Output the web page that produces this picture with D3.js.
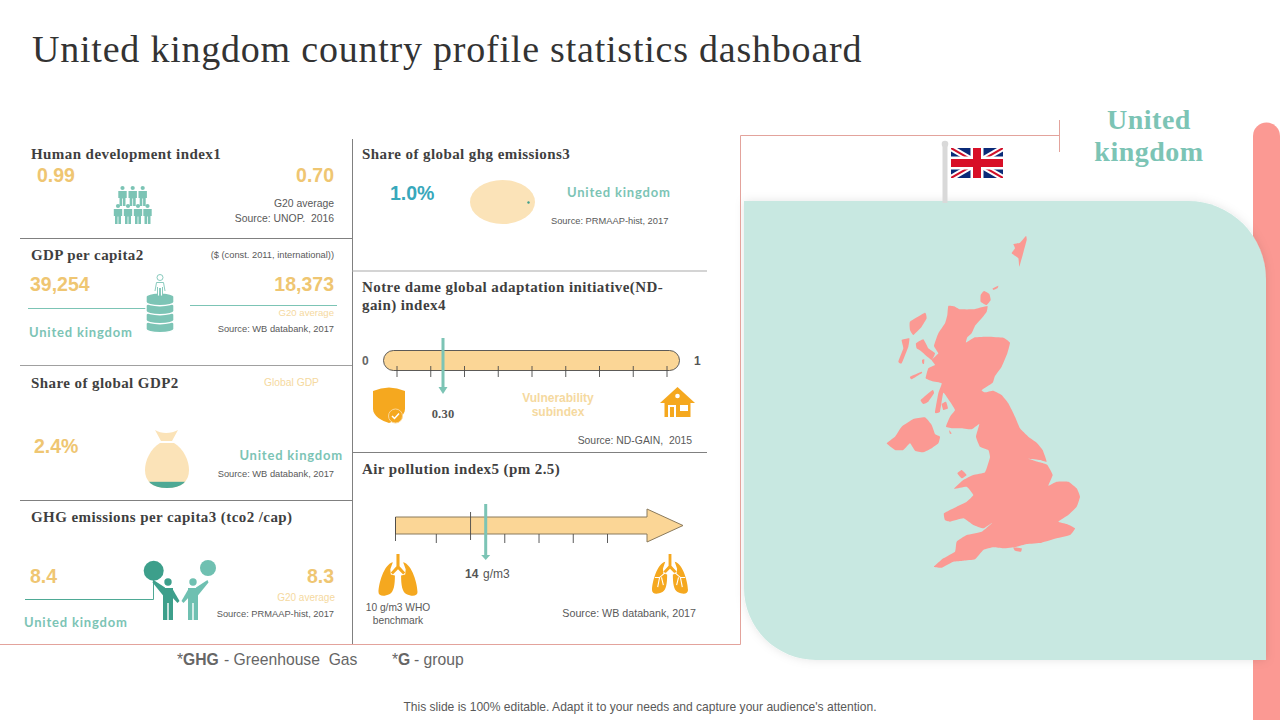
<!DOCTYPE html>
<html><head><meta charset="utf-8">
<script src="https://cdn.jsdelivr.net/npm/d3@7"></script>
<style>html,body{margin:0;padding:0;background:#fff;overflow:hidden}svg{display:block}</style>
</head><body><svg id="c" width="1280" height="720" viewBox="0 0 1280 720"></svg>
<script>
// ---------- data ----------
const titleText = "United kingdom country profile statistics dashboard";
const hdiValues = ["0.99", "0.70"];
const gdpValues = ["39,254", "18,373"];
const shareGdp = "2.4%";
const ghgValues = ["8.4", "8.3"];
const shareGhg = "1.0%";
const gaugeTickCount = [0,1,2,3,4,5,6,7,8];
const gaugeValue = 0.30;
const gaugeDomain = [0, 0.30, 1];
const airTicks = [0,1,2,3,4,5,6];
const airValue = 14;
const airBenchmark = 10;

// outline of the map, in map units
const greatBritain = [[265,258],[285,260],[300,268],[340,268],[382,258],[380,275],[365,295],[345,318],[335,340],[322,352],[318,368],[345,352],[385,350],[430,353],[450,368],[442,400],[425,440],[405,468],[398,488],[365,510],[375,517],[400,512],[425,525],[445,550],[465,590],[480,625],[505,650],[530,668],[548,690],[560,725],[540,720],[505,716],[540,727],[562,735],[578,765],[565,797],[590,785],[625,785],[650,805],[660,830],[650,860],[625,885],[595,905],[620,912],[645,925],[630,945],[590,955],[545,968],[500,972],[470,980],[430,985],[400,982],[370,990],[345,1018],[310,1022],[280,1025],[245,1043],[222,1040],[250,1015],[285,995],[290,965],[320,945],[365,935],[397,908],[370,925],[340,915],[310,895],[270,905],[255,900],[252,880],[290,860],[320,845],[340,825],[320,800],[282,806],[310,780],[340,765],[375,757],[390,712],[385,690],[360,680],[348,650],[358,612],[335,628],[300,625],[280,625],[258,620],[270,590],[285,570],[270,545],[250,518],[240,575],[225,578],[235,520],[245,490],[215,483],[197,475],[205,445],[225,435],[215,420],[235,400],[222,378],[235,340],[255,310],[262,285]];
const northernIreland = [[80,670],[105,650],[125,620],[160,597],[195,592],[215,615],[225,642],[240,650],[235,670],[215,685],[190,697],[165,692],[150,670],[130,690],[105,690]];
const islands = [
 [[150,305],[195,278],[200,295],[185,320],[160,345],[150,330]],
 [[125,360],[148,355],[145,380],[125,430],[115,425],[130,385]],
 [[168,370],[190,358],[205,385],[225,400],[215,420],[185,395],[170,385]],
 [[150,470],[185,455],[185,460],[155,478]],
 [[182,540],[218,510],[222,520],[205,545],[190,552]],
 [[245,552],[258,545],[264,565],[250,570]],
 [[362,225],[372,213],[388,222],[392,240],[380,255],[362,245]],
 [[460,72],[480,68],[498,48],[500,60],[488,105],[478,140],[475,115],[455,100],[465,85]],
 [[398,205],[415,197],[412,205],[400,210]],
 [[292,760],[305,750],[320,765],[305,775]],
 [[460,982],[485,985],[483,995],[465,992]],
 [[267,630],[275,640],[270,642]],
 [[186,420],[193,418],[192,432],[187,430]]
];

// ---------- palette ----------
const C = {ink:"#3f3f3f", src:"#595959", gold:"#efc672", goldLt:"#f5d9a0", teal:"#7cc4b5", tealD:"#3d9f8b", tealL:"#6fc0b1",
  orange:"#f5a81f", cream:"#fbe3b8", bar:"#fbd696", pink:"#fb9993", panel:"#c8e8e1", rule:"#808080", pinkLine:"#e3a39c", blue:"#38a8bb"};
const SERIF = "'Liberation Serif', serif", SANS = "'Liberation Sans', Arial, sans-serif", GEO = "'Lato', 'Open Sans', sans-serif";

const svg = d3.select("#c");
const defs = svg.append("defs");
const f = defs.append("filter").attr("id","soft").attr("x","-5%").attr("y","-5%").attr("width","110%").attr("height","110%");
f.append("feDropShadow").attr("dx",0).attr("dy",0).attr("stdDeviation",5).attr("flood-color","#000").attr("flood-opacity",0.10);

function T(x,y,s,o={}){
  const n = svg.append("text").attr("x",x).attr("y",y).text(s)
    .attr("font-family",o.ff||SANS).attr("font-size",o.fs||10).attr("fill",o.c||C.src)
    .attr("text-anchor",o.a||"start").style("white-space","pre");
  if(o.b) n.attr("font-weight",o.b===true?"bold":o.b);
  if(o.ls!=null) n.attr("letter-spacing",o.ls);
  return n;
}
const H = (x,y,s) => T(x,y,s,{ff:SERIF,fs:15,b:true,c:C.ink,ls:0.42});
const V = (x,y,s,a,c) => T(x,y,s,{fs:19.5,b:true,c:c||C.gold,a:a||"start"});
const UK = (x,y,a) => T(x,y,"United kingdom",{ff:GEO,fs:13,b:"bold",c:C.teal,a:a||"start",ls:0.8});
const L = (x1,y1,x2,y2,c,w) => svg.append("line").attr("x1",x1).attr("y1",y1).attr("x2",x2).attr("y2",y2).attr("stroke",c).attr("stroke-width",w||1);
const P = (d,fill,o={}) => svg.append("path").attr("d",d).attr("fill",fill).attr("stroke",o.s||"none").attr("stroke-width",o.w||1).attr("transform",o.t||null);

// ---------- title & footers ----------
T(32,62,titleText,{ff:SERIF,fs:38,c:"#333",ls:0.78});
T(177,665,"*",{fs:15.7,c:"#666"});
T(183,665,"GHG",{fs:15.7,b:true,c:"#666"});
T(224,665,"- Greenhouse  Gas",{fs:15.7,c:"#666"});
T(392,665,"*",{fs:15.7,c:"#666"});
T(398,665,"G",{fs:15.7,b:true,c:"#666"});
T(414,665,"- group",{fs:15.7,c:"#666"});
T(640,711,"This slide is 100% editable. Adapt it to your needs and capture your audience's attention.",{fs:12.05,c:"#595959",a:"middle"});

// ---------- right side furniture ----------
P("M1253,720V136a13.5,13.5 0 0 1 27,0V720Z",C.pink);
const px=744,py=201,pr=1266,pb=660;
P(`M${px},${py}H${pr-78}A78,78 0 0 1 ${pr},${py+78}V${pb}H${px+72}A72,72 0 0 1 ${px},${pb-72}Z`,C.panel).attr("filter","url(#soft)");
P("M0,644.5H740.5V135.5H1059","none",{s:C.pinkLine});
L(1059.5,120,1059.5,152,C.pinkLine);
T(1149,129,"United",{ff:SERIF,fs:28,b:true,c:C.teal,a:"middle",ls:0.5});
T(1149,161,"kingdom",{ff:SERIF,fs:28,b:true,c:C.teal,a:"middle",ls:0.5});

// ---------- flag ----------
svg.append("rect").attr("x",942.5).attr("y",143).attr("width",5).attr("height",60).attr("fill","#d9d9d9");
svg.append("circle").attr("cx",945).attr("cy",144).attr("r",3.3).attr("fill","#d9d9d9");
const fx=951,fy=148,fw=52,fh=30;
const clip=defs.append("clipPath").attr("id","fl"); clip.append("rect").attr("x",fx).attr("y",fy).attr("width",fw).attr("height",fh);
const flag=svg.append("g").attr("clip-path","url(#fl)");
flag.append("rect").attr("x",fx).attr("y",fy).attr("width",fw).attr("height",fh).attr("fill","#0a2a78");
[[fx,fy,fx+fw,fy+fh],[fx+fw,fy,fx,fy+fh]].forEach(a=>{
  flag.append("line").attr("x1",a[0]).attr("y1",a[1]).attr("x2",a[2]).attr("y2",a[3]).attr("stroke","#fff").attr("stroke-width",6);
  flag.append("line").attr("x1",a[0]).attr("y1",a[1]).attr("x2",a[2]).attr("y2",a[3]).attr("stroke","#d0102a").attr("stroke-width",2);
});
flag.append("rect").attr("x",fx).attr("y",fy+fh/2-6.5).attr("width",fw).attr("height",13).attr("fill","#fff");
flag.append("rect").attr("x",fx+fw/2-6.5).attr("y",fy).attr("width",13).attr("height",fh).attr("fill","#fff");
flag.append("rect").attr("x",fx).attr("y",fy+fh/2-4).attr("width",fw).attr("height",8).attr("fill","#d80f27");
flag.append("rect").attr("x",fx+fw/2-4).attr("y",fy).attr("width",8).attr("height",fh).attr("fill","#d80f27");

// ---------- map ----------
const mx=d3.scaleLinear().domain([0,720]).range([860,1100]);
const my=d3.scaleLinear().domain([0,1080]).range([220,580]);
const outline=d3.line().x(d=>mx(d[0])).y(d=>my(d[1])).curve(d3.curveCardinalClosed.tension(0.65));
svg.append("g").selectAll("path").data([greatBritain,northernIreland,...islands]).join("path")
  .attr("d",outline).attr("fill",C.pink);

// ---------- panel rules ----------
L(352.5,139,352.5,644,C.rule);
L(20,238.5,352,238.5,C.rule);
L(20,365.5,352,365.5,"#a0a0a0");
L(20,500.5,352,500.5,C.rule);
L(352,271,707,271,"#aaaaaa",1.2);
L(352,452.5,707,452.5,C.rule);

// ---------- Human development ----------
H(31,159,"Human development index1");
V(37,182,hdiValues[0]);
V(334,182,hdiValues[1],"end");
T(334,207,"G20 average",{a:"end",fs:10.4});
T(334,222,"Source: UNOP.  2016",{a:"end",fs:10.4});
function person(cx,top,h,fill){
  const k=h/20;
  svg.append("circle").attr("cx",cx).attr("cy",top+2*k).attr("r",2.1*k).attr("fill",fill);
  P(`M${cx-4.2*k},${top+5*k}H${cx+4.2*k}V${top+12*k}H${cx+3*k}V${top+h}H${cx+.4*k}V${top+12.5*k}H${cx-.4*k}V${top+h}H${cx-3*k}V${top+12*k}H${cx-4.2*k}Z`,fill);
}
[122.5,132.7,142.7].forEach(x=>person(x,186,20,C.teal));
[118,128,138,147.5].forEach(x=>person(x,204,20,C.teal));

// ---------- GDP per capita ----------
H(31,260,"GDP per capita2");
T(334,258,"($ (const. 2011, international))",{a:"end",fs:9.3});
V(30,291,gdpValues[0]);
V(334,291,gdpValues[1],"end");
L(28,308.5,146,308.5,C.teal);
L(190,305.5,337,305.5,C.teal);
T(334,316,"G20 average",{a:"end",c:C.goldLt,fs:9.6});
T(334,332,"Source: WB databank, 2017",{a:"end",fs:9.3});
UK(29,337);
[323.5,314.5,305.5,296.5].forEach(top=>{
  const rx=14,ry=3.6,h=5.6;
  P(`M${160-rx},${top}A${rx},${ry} 0 0 1 ${160+rx},${top}V${top+h}A${rx},${ry} 0 0 1 ${160-rx},${top+h}Z`,C.teal,{s:"#fff",w:1.4});
});
svg.append("circle").attr("cx",160).attr("cy",277.5).attr("r",3).attr("fill","#fff").attr("stroke",C.teal).attr("stroke-width",.9);
P("M155,291L156.5,282.5H163.5L165,291M157.5,287V296H159.5V288M162.5,287V296H160.5V288","#fff",{s:C.teal,w:.9});

// ---------- Share of global GDP ----------
H(31,388,"Share of global GDP2");
T(319,386,"Global GDP",{a:"end",c:C.goldLt,fs:10.3});
V(34,453,shareGdp);
UK(343,460,"end");
T(334,477,"Source: WB databank, 2017",{a:"end",fs:9.3});
const bagBody="M160,443C150,449 145,461 145,470C145,481 152,488 167,488C182,488 189,481 189,470C189,461 184,449 174,443Z";
defs.append("clipPath").attr("id","bag").append("path").attr("d",bagBody);
P(bagBody,C.cream);
svg.append("rect").attr("x",140).attr("y",481.8).attr("width",55).attr("height",10).attr("fill","#4ea995").attr("clip-path","url(#bag)");
P("M155,430C161,434 171,434 178,430L172,441H161Z",C.cream);

// ---------- GHG per capita ----------
H(31,522,"GHG emissions per capita3 (tco2 /cap)");
V(30,583,ghgValues[0]);
V(334,583,ghgValues[1],"end");
T(335,601,"G20 average",{a:"end",c:C.goldLt,fs:10});
T(334,617,"Source: PRMAAP-hist, 2017",{a:"end",fs:9.3});
UK(24,627);
P("M25,599.5H153.5V580","none",{s:"#4ea995"});
svg.append("circle").attr("cx",153.7).attr("cy",570.7).attr("r",10).attr("fill",C.tealD);
svg.append("circle").attr("cx",208).attr("cy",568).attr("r",8).attr("fill",C.tealL);
function man(cx,fill,dir){
  svg.append("circle").attr("cx",cx).attr("cy",582).attr("r",3.7).attr("fill",fill);
  P(`M${cx-5},588H${cx+5}V620H${cx+.7}V603H${cx-.7}V620H${cx-5}Z`,fill);
  P(`M${cx+dir*3},587.5L${cx+dir*14.5},${580}L${cx+dir*15.5},${582.5}L${cx+dir*4.5},596Z`,fill);
  P(`M${cx-dir*4},588L${cx-dir*11.5},601L${cx-dir*9.5},603L${cx-dir*3},596Z`,fill);
}
man(168,"#3d9f8b",-1);
man(193,"#6fc0b1",1);

// ---------- Share of global GHG ----------
H(362,159,"Share of global ghg emissions3");
V(390,200,shareGhg,"start",C.blue);
svg.append("ellipse").attr("cx",502.5).attr("cy",202).attr("rx",32.5).attr("ry",22).attr("fill",C.cream);
svg.append("circle").attr("cx",528.5).attr("cy",202.5).attr("r",1.2).attr("fill",C.tealD);
T(567,197,"United kingdom",{ff:GEO,fs:13,b:"bold",c:C.teal,ls:0.8});
T(551,224,"Source: PRMAAP-hist, 2017",{fs:9.3});

// ---------- ND-GAIN gauge ----------
H(362,292,"Notre dame global adaptation initiative(ND-");
H(362,310,"gain) index4");
const gx=d3.scaleLinear().domain(gaugeDomain).range([383,443,680]);
const gt=d3.scaleLinear().domain([0,8]).range([397,667]);
svg.append("rect").attr("x",gx(0)+.5).attr("y",350.5).attr("width",gx(1)-gx(0)-1).attr("height",20).attr("rx",10).attr("fill",C.bar).attr("stroke","#4a4a4a").attr("stroke-width",.9);
svg.append("g").selectAll("line").data(gaugeTickCount).join("line")
  .attr("x1",d=>gt(d)).attr("x2",d=>gt(d)).attr("y1",366).attr("y2",377).attr("stroke","#4a4a4a").attr("stroke-width",.9);
svg.append("rect").attr("x",gx(gaugeValue)-1.5).attr("y",338).attr("width",3).attr("height",50).attr("fill",C.teal);
P(`M${gx(gaugeValue)-4.5},387H${gx(gaugeValue)+4.5}L${gx(gaugeValue)},394Z`,C.teal);
T(362,365,"0",{fs:12,b:true,c:"#666"});
T(694,365,"1",{fs:12,b:true,c:"#555"});
T(443,418,gaugeValue.toFixed(2),{ff:SERIF,fs:12.5,b:true,c:"#555",a:"middle",ls:.2});
T(558,402,"Vulnerability",{fs:12,b:true,c:C.goldLt,a:"middle"});
T(558,416,"subindex",{fs:12,b:true,c:C.goldLt,a:"middle"});
T(692,444,"Source: ND-GAIN,  2015",{a:"end",fs:10.4});
P("M373,391Q389,384 405,391V409C405,416 396,421 389,423C382,421 373,416 373,409Z",C.orange);
svg.append("circle").attr("cx",395.5).attr("cy",416).attr("r",7).attr("fill",C.orange).attr("stroke","#fbd696").attr("stroke-width",1);
P("M392,416l2.5,2.5l4.5,-5","none",{s:"#fff",w:1.5});
P("M660,403L677.5,387L695,403H690.5V417H664.5V403Z",C.orange);
svg.append("circle").attr("cx",677.5).attr("cy",396).attr("r",2.3).attr("fill","#fff");
svg.append("rect").attr("x",668).attr("y",405).attr("width",8).attr("height",12).attr("fill","#fff");
svg.append("rect").attr("x",670).attr("y",407).attr("width",4).attr("height",10).attr("fill",C.orange);
svg.append("rect").attr("x",680).attr("y",405).attr("width",8).attr("height",6).attr("fill","#fff");

// ---------- Air pollution arrow ----------
H(362,474,"Air pollution index5 (pm 2.5)");
const ax=d3.scaleLinear().domain([airBenchmark,airValue]).range([395.5,485.7]);
const at=d3.scaleLinear().domain([0,1,6]).range([395.5,436.3,607.5]);
P("M395.5,517H647V509L683,525.5L647,542V534H395.5Z",C.bar,{s:"#8a7a5c",w:1});
svg.append("g").selectAll("line").data(airTicks).join("line")
  .attr("x1",d=>at(d)).attr("x2",d=>at(d))
  .attr("y1",d=>d===0?517:d===2?512:534).attr("y2",d=>d===2?540:d===0?541:543)
  .attr("stroke","#4a4a4a").attr("stroke-width",.9);
svg.append("rect").attr("x",ax(airValue)-1.5).attr("y",504).attr("width",3).attr("height",52).attr("fill",C.teal);
P(`M${ax(airValue)-4.5},555H${ax(airValue)+4.5}L${ax(airValue)},560Z`,C.teal);
T(465,578,String(airValue),{fs:12,b:true,c:"#555"});
T(483,578,"g/m3",{fs:12,c:"#555"});
T(398,611,airBenchmark+" g/m3 WHO",{a:"middle",fs:10.2});
T(398,624,"benchmark",{a:"middle",fs:10.2});
T(696,617,"Source: WB databank, 2017",{a:"end",fs:10.7});
function lungs(cx,top,w,h,branch){
  const k=w/38,v=h/42;
  const X=d=>cx+d*k,Y=d=>top+d*v;
  P(`M${X(-1.5)},${Y(0)}H${X(1.5)}V${Y(12)}L${X(7)},${Y(18)}L${X(5)},${Y(20)}L${X(0)},${Y(15)}L${X(-5)},${Y(20)}L${X(-7)},${Y(18)}L${X(-1.5)},${Y(12)}Z`,C.orange);
  [-1,1].forEach(s=>{
    P(`M${X(s*5)},${Y(8)}C${X(s*14)},${Y(10)} ${X(s*19)},${Y(30)} ${X(s*19)},${Y(37)}C${X(s*19)},${Y(41)} ${X(s*14)},${Y(42)} ${X(s*8)},${Y(39)}C${X(s*4)},${Y(37)} ${X(s*3)},${Y(30)} ${X(s*3)},${Y(21)}L${X(s*7)},${Y(20)}L${X(s*7.5)},${Y(15)}Z`,C.orange);
    if(branch) P(`M${X(s*5)},${Y(19)}L${X(s*11)},${Y(24)}L${X(s*13)},${Y(34)}M${X(s*11)},${Y(24)}L${X(s*16)},${Y(24)}M${X(s*9)},${Y(24)}L${X(s*7)},${Y(32)}`,"none",{s:"#fff",w:1.1});
  });
}
lungs(398,554,39,43,false);
lungs(670,554,36,41,true);
</script></body></html>
